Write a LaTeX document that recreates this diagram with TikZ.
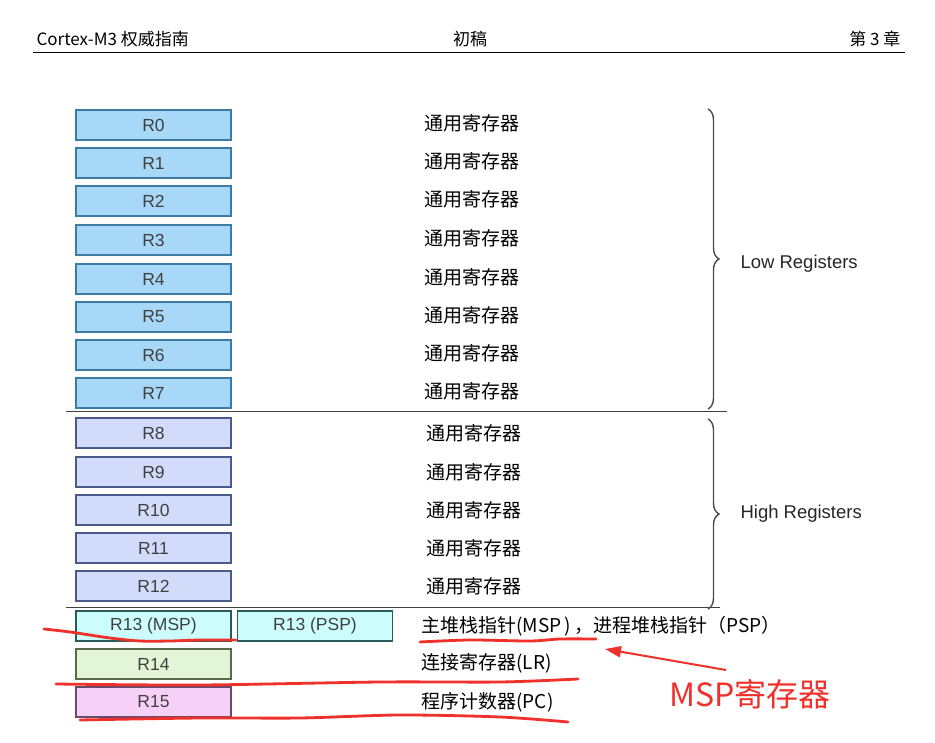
\documentclass[tikz,border=0pt]{standalone}
\usepackage{fontspec}
\setmainfont{Liberation Sans}
\newfontfamily\cjk{Noto Sans CJK SC}
\usetikzlibrary{decorations.pathreplacing,arrows.meta}
\definecolor{lowf}{HTML}{A8D8F8}\definecolor{lowd}{HTML}{3A7CA5}
\definecolor{highf}{HTML}{D2DCFA}\definecolor{highd}{HTML}{4A5A8A}
\definecolor{spf}{HTML}{CCFCFC}\definecolor{spd}{HTML}{2A5A5A}
\definecolor{lrf}{HTML}{E2F5D6}\definecolor{lrd}{HTML}{5A6A4A}
\definecolor{pcf}{HTML}{F6D0F6}\definecolor{pcd}{HTML}{6A4A6A}
\definecolor{redm}{HTML}{F0302A}
\tikzset{reg/.style={draw,line width=1.1pt,minimum width=155pt,minimum height=30pt,inner sep=0pt,font=\fontsize{17.5}{17}\selectfont,text=black!75},
desc/.style={font=\cjk\fontsize{19}{20}\selectfont,anchor=center},
hdr/.style={font=\cjk\fontsize{17}{18}\selectfont},
redline/.style={redm,line width=2.8pt,line cap=round}}
\begin{document}
\begin{tikzpicture}[x=1pt,y=-1pt]
\useasboundingbox (0,0) rectangle (935,743);
\node[hdr,anchor=west] (h1) at (33,39) {Cortex-M3 权威指南};
\node[hdr] (h2) at (470,39) {初稿};
\node[hdr,anchor=east] (h3) at (904,39) {第 3 章};
\coordinate (hl1) at (33,53); \coordinate (hl2) at (905,53);
\draw[line width=1pt] (hl1) -- (hl2);
\foreach \i/\y in {0/125,1/163,2/201,3/240,4/279,5/317,6/355,7/393}{
 \node[reg,fill=lowf,draw=lowd] (r\i) at (153.5,\y) {R\i};
 \node[desc] (d\i) at (472,\y-2) {通用寄存器};}
\foreach \i/\y in {8/433,9/472,10/510,11/548,12/586}{
 \node[reg,fill=highf,draw=highd] (r\i) at (153.5,\y) {R\i};
 \node[desc] (d\i) at (474,\y) {通用寄存器};}
\node[reg,fill=spf,draw=spd] (r13) at (153.5,626) {R13 (MSP)};
\node[reg,fill=spf,draw=spd] (r13p) at (315,626) {R13 (PSP)};
\node[reg,fill=lrf,draw=lrd] (r14) at (153.5,664) {R14};
\node[reg,fill=pcf,draw=pcd] (r15) at (153.5,702) {R15};
\node[desc,anchor=west] (d13) at (418,626) {主堆栈指针(MSP\,)\,，进程堆栈指针（PSP）};
\node[desc,anchor=west] (d14) at (418,663) {连接寄存器(LR)};
\node[desc,anchor=west] (d15) at (418,702) {程序计数器(PC)};
\coordinate (s1a) at (66,412); \coordinate (s1b) at (727,412);
\coordinate (s2a) at (66,607); \coordinate (s2b) at (720,607);
\draw[black!75,line width=1pt] (s1a) -- (s1b); \draw[black!75,line width=1pt] (s2a) -- (s2b);
\coordinate (b1t) at (708,109); \coordinate (b1b) at (708,409);
\coordinate (b2t) at (708,419); \coordinate (b2b) at (708,609);
\draw[black!70,line width=1.4pt,decorate,decoration={brace,amplitude=11pt}] (b1t) -- (b1b);
\draw[black!70,line width=1.4pt,decorate,decoration={brace,amplitude=11pt}] (b2t) -- (b2b);
\node[anchor=west,font=\fontsize{18.5}{18}\selectfont,text=black!85] (low) at (737,264) {Low Registers};
\node[anchor=west,font=\fontsize{18.5}{18}\selectfont,text=black!85] (high) at (737,514) {High Registers};
\draw[redline] plot[smooth] coordinates {(44,629) (70,632) (110,638) (140,641) (170,641) (200,640) (236,640)};
\draw[redline] plot[smooth] coordinates {(420,642) (470,640) (530,641) (560,639) (596,639)};
\draw[redline] plot[smooth] coordinates {(56,684) (200,685) (380,682) (500,682) (578,679)};
\draw[redline] plot[smooth] coordinates {(80,720) (200,718) (300,718) (400,715) (500,717) (568,722)};
\coordinate (ar1) at (726,670); \coordinate (ar2) at (605,649);
\draw[redm,line width=2pt,-{Triangle[length=16pt,width=11pt]}] (ar1) -- (ar2);
\node[anchor=west,text=redm,font=\cjk\fontsize{32}{32}\selectfont] (msp) at (666,694) {MSP寄存器};
\end{tikzpicture}
\end{document}
